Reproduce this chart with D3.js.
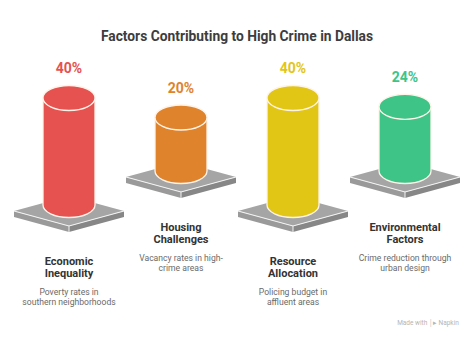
<!DOCTYPE html>
<html>
<head>
<meta charset="utf-8">
<script src="https://cdn.jsdelivr.net/npm/d3@7"></script>
<style>
  html, body { margin: 0; padding: 0; background: #ffffff; }
  svg { display: block; font-family: Roboto, "Noto Sans", sans-serif; }
</style>
</head>
<body>
<svg id="chart" width="474" height="338"></svg>
<script>
// ---- data ----
const title = "Factors Contributing to High Crime in Dallas";
const categories = [["Economic", "Inequality"], ["Housing", "Challenges"], ["Resource", "Allocation"], ["Environmental", "Factors"]];
const values = [40, 20, 40, 24];
const descriptions = [
  ["Poverty rates in", "southern neighborhoods"],
  ["Vacancy rates in high-", "crime areas"],
  ["Policing budget in", "affluent areas"],
  ["Crime reduction through", "urban design"]
];
const palette = ["#E55250", "#E0832D", "#E2C616", "#3DC486"];

// ---- layout ----
const W = 474, H = 338;
const svg = d3.select("#chart");

const x = d3.scaleBand().domain(d3.range(values.length)).range([13, 461]).padding(0);
const h = d3.scaleLinear().domain([0, 40]).range([0, 107]);
const baseY = i => (i % 2 === 0 ? 211 : 177);
const rx = 26, ry = 12.5;
const pw = 55, ph = 15, pt = 6;

svg.append("text")
  .attr("x", W / 2).attr("y", 36).attr("dy", "0.35em")
  .attr("text-anchor", "middle")
  .attr("font-size", 13.8).attr("font-weight", 700)
  .attr("fill", "#3d3d3d")
  .text(title);

const g = svg.selectAll("g.item").data(values).join("g").attr("class", "item")
  .attr("transform", (d, i) => `translate(${x(i) + x.bandwidth() / 2},0)`);

g.each(function (d, i) {
  const s = d3.select(this);
  const cy = baseY(i);
  // base plate
  s.append("path")
    .attr("d", `M${-pw},${cy} L0,${cy + ph} L0,${cy + ph + pt} L${-pw},${cy + pt} Z`)
    .attr("fill", "#9a9a9a");
  s.append("path")
    .attr("d", `M0,${cy + ph} L${pw},${cy} L${pw},${cy + pt} L0,${cy + ph + pt} Z`)
    .attr("fill", "#878787");
  s.append("path")
    .attr("d", `M${-pw},${cy} L0,${cy - ph} L${pw},${cy} L0,${cy + ph} Z`)
    .attr("fill", "#a5a5a5");
  s.append("path")
    .attr("d", `M${-pw},${cy} L0,${cy + ph} L${pw},${cy}`)
    .attr("fill", "none").attr("stroke", "#f2f2f2").attr("stroke-width", 1.2);
  s.append("path")
    .attr("d", `M0,${cy + ph} L0,${cy + ph + pt}`)
    .attr("fill", "none").attr("stroke", "#f2f2f2").attr("stroke-width", 1);

  // cylinder
  const bot = cy - 6;
  const top = bot - h(d);
  s.append("path")
    .attr("d", `M${-rx},${top} L${-rx},${bot} A${rx},${ry} 0 0 0 ${rx},${bot} L${rx},${top} A${rx},${ry} 0 0 0 ${-rx},${top} Z`)
    .attr("fill", palette[i])
    .attr("stroke", "#fff4ea").attr("stroke-width", 1.3);
  s.append("ellipse")
    .attr("cx", 0).attr("cy", top).attr("rx", rx).attr("ry", ry)
    .attr("fill", palette[i])
    .attr("stroke", "#fff4ea").attr("stroke-width", 1.3);

  // value label
  s.append("text")
    .attr("x", 0).attr("y", top - ry - 17).attr("dy", "0.35em")
    .attr("text-anchor", "middle")
    .attr("font-size", 14).attr("font-weight", 700)
    .attr("fill", palette[i])
    .text(d + "%");

  // category label
  categories[i].forEach((line, k) => {
    s.append("text")
      .attr("x", 0).attr("y", cy + 50 + k * 12.5).attr("dy", "0.35em")
      .attr("text-anchor", "middle")
      .attr("font-size", 11).attr("font-weight", 700)
      .attr("fill", "#333333")
      .text(line);
  });
  descriptions[i].forEach((line, k) => {
    s.append("text")
      .attr("x", 0).attr("y", cy + 81 + k * 10).attr("dy", "0.35em")
      .attr("text-anchor", "middle")
      .attr("font-size", 8.6).attr("font-weight", 400)
      .attr("fill", "#6a6a6a")
      .text(line);
  });
});

// watermark
svg.append("text")
  .attr("x", 428).attr("y", 323).attr("dy", "0.35em")
  .attr("text-anchor", "middle")
  .attr("font-size", 6.5)
  .attr("fill", "#b5b5b5")
  .text("Made with  \u2502\u25B8 Napkin");
</script>
</body>
</html>
